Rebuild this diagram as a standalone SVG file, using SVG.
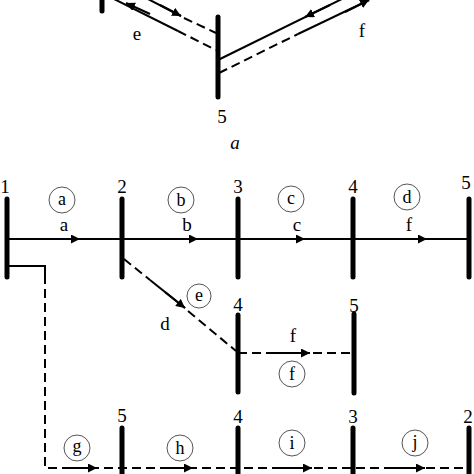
<svg xmlns="http://www.w3.org/2000/svg" width="474" height="474" viewBox="0 0 474 474">
<style>
.bar{stroke:#000;stroke-width:5;stroke-linecap:round;fill:none}
.ln{stroke:#000;stroke-width:2;fill:none}
.ds{stroke:#000;stroke-width:2;fill:none;stroke-dasharray:9 5}
.ar{stroke:#000;stroke-width:2;fill:none;marker-end:url(#ah)}
.cir{fill:none;stroke:#555;stroke-width:1}
.t{font-family:'Liberation Serif','Times New Roman','DejaVu Serif',serif;font-size:19px;fill:#000;text-anchor:middle}
.ct{font-size:18px}
</style>
<defs>
<marker id="ah" viewBox="0 0 10 10" refX="10" refY="5" markerWidth="9" markerHeight="9" markerUnits="userSpaceOnUse" orient="auto">
<path d="M0,0 L10,5 L0,10 z" fill="#000"/>
</marker>
</defs>
<g id="connectors">
<path class="ln" d="M144,-3 L181,16"/>
<path class="ar" d="M160,5 L181,16"/>
<path class="ds" d="M184,18 L216,33"/>
<path class="ln" d="M112,-2 L178,31"/>
<path class="ar" d="M150,14 L126,3"/>
<path class="ds" d="M178,31 L216,50"/>
<path class="ln" d="M218,60 L346,-3"/>
<path class="ar" d="M330,5 L305,17"/>
<path class="ds" d="M219,73 L298,34"/>
<path class="ln" d="M298,34 L369,0"/>
<path class="ar" d="M345,12 L369,0"/>
<path class="ln" d="M7,239 H469"/>
<path class="ar" d="M60,239 H80"/>
<path class="ar" d="M178,239 H198"/>
<path class="ar" d="M285,239 H305"/>
<path class="ar" d="M407,239 H427"/>
<path class="ds" d="M124,259 L150,280"/>
<path class="ln" d="M150,280 L185,308"/>
<path class="ar" d="M165,292 L185,308"/>
<path class="ds" d="M188,311 L236,351"/>
<path class="ds" d="M238,353 H275"/>
<path class="ar" d="M275,353 H310"/>
<path class="ds" d="M313,353 H354"/>
<path class="ln" d="M7,266 H45 V275"/>
<path class="ds" d="M45,275 V468 H470"/>
<path class="ar" d="M64,468 H97"/>
<path class="ar" d="M160,468 H193"/>
<path class="ar" d="M279,468 H312"/>
<path class="ar" d="M392,468 H425"/>
</g>
<g id="sectionA">
<line class="bar" x1="102" y1="-5" x2="102" y2="11"/>
<line class="bar" x1="218" y1="17" x2="218" y2="97"/>
<text class="t" x="137" y="40">e</text>
<text class="t" x="362" y="37">f</text>
<text class="t" x="222" y="123">5</text>
<text class="t" x="235" y="149" font-style="italic" font-size="16">a</text>
</g>
<g id="bus1"><line class="bar" x1="7" y1="199" x2="7" y2="277"/><text class="t" x="5" y="193">1</text></g>
<g id="bus2"><line class="bar" x1="122" y1="199" x2="122" y2="277"/><text class="t" x="122" y="193">2</text></g>
<g id="bus3"><line class="bar" x1="238" y1="199" x2="238" y2="277"/><text class="t" x="238" y="193">3</text></g>
<g id="bus4"><line class="bar" x1="353" y1="199" x2="353" y2="277"/><text class="t" x="353" y="193">4</text></g>
<g id="bus5"><line class="bar" x1="469" y1="199" x2="469" y2="277"/><text class="t" x="466" y="189">5</text></g>
<g id="bus4m"><line class="bar" x1="238" y1="315" x2="238" y2="392"/><text class="t" x="238" y="311">4</text></g>
<g id="bus5m"><line class="bar" x1="354" y1="314" x2="354" y2="393"/><text class="t" x="354" y="312">5</text></g>
<g id="bus5b"><line class="bar" x1="122" y1="428" x2="122" y2="480"/><text class="t" x="122" y="422">5</text></g>
<g id="bus4b"><line class="bar" x1="238" y1="428" x2="238" y2="480"/><text class="t" x="238" y="423">4</text></g>
<g id="bus3b"><line class="bar" x1="353" y1="428" x2="353" y2="480"/><text class="t" x="353" y="423">3</text></g>
<g id="bus2b"><line class="bar" x1="469" y1="428" x2="469" y2="480"/><text class="t" x="468" y="423">2</text></g>
<g id="labels">
<text class="t" x="64" y="231">a</text>
<text class="t" x="187" y="231">b</text>
<text class="t" x="297" y="231">c</text>
<text class="t" x="409" y="231">f</text>
<text class="t" x="165" y="330">d</text>
<text class="t" x="293" y="342">f</text>
</g>
<g id="circA"><circle class="cir" cx="62" cy="200" r="13"/><text class="t ct" x="62" y="205">a</text></g>
<g id="circB"><circle class="cir" cx="181" cy="200" r="13"/><text class="t ct" x="181" y="206">b</text></g>
<g id="circC"><circle class="cir" cx="291" cy="199" r="13"/><text class="t ct" x="291" y="204">c</text></g>
<g id="circD"><circle class="cir" cx="407" cy="197" r="13"/><text class="t ct" x="407" y="203">d</text></g>
<g id="circE"><circle class="cir" cx="199" cy="296" r="12"/><text class="t ct" x="199" y="301">e</text></g>
<g id="circF"><circle class="cir" cx="292" cy="374" r="13"/><text class="t ct" x="292" y="380">f</text></g>
<g id="circG"><circle class="cir" cx="77" cy="448" r="13"/><text class="t ct" x="77" y="452">g</text></g>
<g id="circH"><circle class="cir" cx="180" cy="448" r="13"/><text class="t ct" x="180" y="454">h</text></g>
<g id="circI"><circle class="cir" cx="292" cy="443" r="13"/><text class="t ct" x="292" y="449">i</text></g>
<g id="circJ"><circle class="cir" cx="415" cy="443" r="13"/><text class="t ct" x="415" y="448">j</text></g>
</svg>
